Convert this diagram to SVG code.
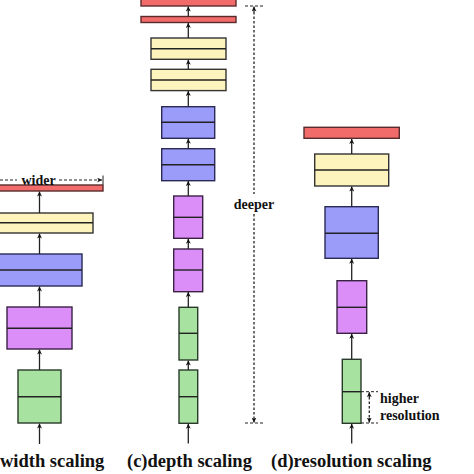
<svg xmlns="http://www.w3.org/2000/svg" width="474" height="474" viewBox="0 0 474 474">
<defs>
<marker id="ah" viewBox="0 0 10 10" refX="10" refY="5" markerWidth="5" markerHeight="5" orient="auto-start-reverse" markerUnits="userSpaceOnUse">
<path d="M0,0 L10,5 L0,10 L3,5 Z" fill="#111"/>
</marker>
</defs>
<style>
.red{fill:#f26b6b;stroke:#5a2b2b;stroke-width:1.4}
.yel{fill:#fdf4bd;stroke:#333;stroke-width:1.4}
.blu{fill:#9b9bfa;stroke:#2a2a55;stroke-width:1.4}
.pur{fill:#dc8ef8;stroke:#3a2245;stroke-width:1.4}
.grn{fill:#a8e2a0;stroke:#2a3a2a;stroke-width:1.4}
.mid{stroke:#222;stroke-width:1.4}
.arr{stroke:#222;stroke-width:1.3;fill:none;marker-end:url(#ah)}
.dot{stroke:#222;stroke-width:1.3;fill:none;stroke-dasharray:2.5,2}
.dash{stroke:#222;stroke-width:1;fill:none;stroke-dasharray:3,2}
.lbl{font-family:"Liberation Serif","Times New Roman",serif;font-weight:bold;font-size:18.5px;fill:#111}
.sm{font-family:"Liberation Serif","Times New Roman",serif;font-weight:bold;font-size:14px;fill:#111}
</style>
<rect width="474" height="474" fill="#fff"/>

<!-- (b) width scaling -->
<g id="b-red"><rect class="red" x="-2" y="185" width="105" height="6"/></g>
<g id="b-yellow"><rect class="yel" x="-2" y="213" width="95" height="20"/><line class="mid" x1="-2" y1="222.7" x2="93" y2="222.7"/></g>
<g id="b-blue"><rect class="blu" x="-2" y="254" width="84" height="32"/><line class="mid" x1="-2" y1="270" x2="82" y2="270"/></g>
<g id="b-purple"><rect class="pur" x="7" y="307" width="65" height="42"/><line class="mid" x1="7" y1="328.3" x2="72" y2="328.3"/></g>
<g id="b-green"><rect class="grn" x="18" y="370" width="43" height="53"/><line class="mid" x1="18" y1="396.7" x2="61" y2="396.7"/></g>

<!-- (c) depth scaling -->
<g id="c-red1"><rect class="red" x="141" y="-1" width="95" height="7"/></g>
<g id="c-red2"><rect class="red" x="141" y="16.5" width="95" height="6"/></g>
<g id="c-yellow1"><rect class="yel" x="151" y="38" width="75" height="21.3"/><line class="mid" x1="151" y1="48.7" x2="226" y2="48.7"/></g>
<g id="c-yellow2"><rect class="yel" x="151" y="69.3" width="75" height="21.3"/><line class="mid" x1="151" y1="80" x2="226" y2="80"/></g>
<g id="c-blue1"><rect class="blu" x="161.7" y="106.7" width="53" height="31.6"/><line class="mid" x1="161.7" y1="122.3" x2="214.7" y2="122.3"/></g>
<g id="c-blue2"><rect class="blu" x="161.7" y="148.7" width="53" height="32"/><line class="mid" x1="161.7" y1="164.7" x2="214.7" y2="164.7"/></g>
<g id="c-purple1"><rect class="pur" x="173.7" y="196" width="29" height="42.3"/><line class="mid" x1="173.7" y1="217.3" x2="202.7" y2="217.3"/></g>
<g id="c-purple2"><rect class="pur" x="173.7" y="249" width="29" height="42.7"/><line class="mid" x1="173.7" y1="270" x2="202.7" y2="270"/></g>
<g id="c-green1"><rect class="grn" x="179" y="307.3" width="18.7" height="52.7"/><line class="mid" x1="179" y1="333.3" x2="197.7" y2="333.3"/></g>
<g id="c-green2"><rect class="grn" x="179" y="370" width="18.7" height="53.3"/><line class="mid" x1="179" y1="396.7" x2="197.7" y2="396.7"/></g>

<!-- (d) resolution scaling -->
<g id="d-red"><rect class="red" x="304" y="127.3" width="95.3" height="11"/></g>
<g id="d-yellow"><rect class="yel" x="314.7" y="154" width="74" height="32"/><line class="mid" x1="314.7" y1="170" x2="388.7" y2="170"/></g>
<g id="d-blue"><rect class="blu" x="325" y="206.7" width="53.3" height="51.6"/><line class="mid" x1="325" y1="233.3" x2="378.3" y2="233.3"/></g>
<g id="d-purple"><rect class="pur" x="337" y="280.7" width="29.7" height="52.6"/><line class="mid" x1="337" y1="307.3" x2="366.7" y2="307.3"/></g>
<g id="d-green"><rect class="grn" x="342.3" y="359.3" width="18.7" height="64"/><line class="mid" x1="342.3" y1="391.7" x2="361" y2="391.7"/></g>

<g id="connectors">
<!-- b -->
<line class="arr" x1="39.5" y1="213" x2="39.5" y2="191.5"/>
<line class="arr" x1="39.5" y1="254" x2="39.5" y2="233.5"/>
<line class="arr" x1="39.5" y1="307" x2="39.5" y2="286.5"/>
<line class="arr" x1="39.5" y1="370" x2="39.5" y2="349.5"/>
<line class="arr" x1="39.5" y1="444" x2="39.5" y2="423.5"/>
<line class="dash" x1="0" y1="180" x2="17" y2="180"/>
<line class="dash" x1="59" y1="180" x2="102" y2="180" marker-end="url(#ah)"/>
<line stroke="#222" stroke-width="1" x1="103" y1="175.5" x2="103" y2="184.5"/>
<!-- c -->
<line class="arr" x1="188.3" y1="16.5" x2="188.3" y2="6.5"/>
<line class="arr" x1="188.3" y1="38" x2="188.3" y2="23"/>
<line class="arr" x1="188.3" y1="69.3" x2="188.3" y2="59.8"/>
<line class="arr" x1="188.3" y1="106.7" x2="188.3" y2="91"/>
<line class="arr" x1="188.3" y1="148.7" x2="188.3" y2="138.8"/>
<line class="arr" x1="188.3" y1="196" x2="188.3" y2="181"/>
<line class="arr" x1="188.3" y1="249" x2="188.3" y2="238.8"/>
<line class="arr" x1="188.3" y1="307.3" x2="188.3" y2="292"/>
<line class="arr" x1="188.3" y1="370" x2="188.3" y2="360.5"/>
<line class="arr" x1="188.3" y1="443.5" x2="188.3" y2="423.8"/>
<line class="dot" x1="254" y1="12" x2="254" y2="194"/>
<line class="dot" x1="254" y1="214" x2="254" y2="417"/>
<line class="arr" x1="254" y1="12" x2="254" y2="6.5" stroke-width="1"/>
<line class="arr" x1="254" y1="417" x2="254" y2="422.5" stroke-width="1"/>
<line class="dash" x1="245" y1="6" x2="263" y2="6"/>
<line class="dash" x1="245" y1="423" x2="263" y2="423"/>
<!-- d -->
<line class="arr" x1="351.7" y1="154" x2="351.7" y2="139"/>
<line class="arr" x1="351.7" y1="206.7" x2="351.7" y2="186.5"/>
<line class="arr" x1="351.7" y1="280.7" x2="351.7" y2="258.8"/>
<line class="arr" x1="351.7" y1="359.3" x2="351.7" y2="333.8"/>
<line class="arr" x1="351.7" y1="443.5" x2="351.7" y2="423.8"/>
<line class="dash" x1="361" y1="391.7" x2="378" y2="391.7"/>
<line class="dash" x1="361" y1="423" x2="378" y2="423"/>
<line class="dot" x1="369.3" y1="397" x2="369.3" y2="418" stroke-width="1"/>
<line class="arr" x1="369.3" y1="397" x2="369.3" y2="392.2" stroke-width="1"/>
<line class="arr" x1="369.3" y1="418" x2="369.3" y2="422.5" stroke-width="1"/>
</g>

<g id="texts">
<text class="sm" x="38.5" y="184.5" text-anchor="middle">wider</text>
<text class="sm" x="254" y="209" text-anchor="middle">deeper</text>
<text class="sm" x="380" y="403">higher</text>
<text class="sm" x="380" y="420">resolution</text>
<text class="lbl" x="0" y="467">width scaling</text>
<text class="lbl" x="127" y="467">(c)depth scaling</text>
<text class="lbl" x="271" y="467">(d)resolution scaling</text>
</g>
</svg>
